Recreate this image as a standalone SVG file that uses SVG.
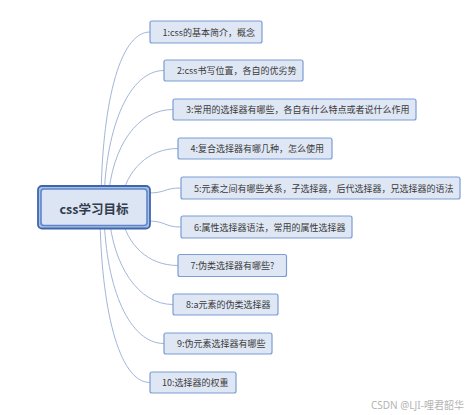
<svg xmlns="http://www.w3.org/2000/svg" width="474" height="415" viewBox="0 0 474 415">
<style>
.bg{fill:#ffffff}
.link{fill:none;stroke:#a3b6d8;stroke-width:1}
.box{fill:#dfe7f4;stroke:#7b9dd3;stroke-width:1.2}
.t{font-family:"Microsoft YaHei","Noto Sans CJK SC",sans-serif;font-size:9px;fill:#3a3a3a;dominant-baseline:central}
.rt{font-family:"Microsoft YaHei","Noto Sans CJK SC",sans-serif;font-size:12.5px;font-weight:bold;fill:#333c4c;dominant-baseline:central;text-anchor:middle}
.wm{font-family:"Noto Sans","Noto Sans CJK SC",sans-serif;font-size:10px;fill:#b4b4b4;dominant-baseline:central}
</style>
<rect class="bg" x="0" y="0" width="474" height="415"/>
<g id="connectors">
<path class="link" d="M101 200 C102 110 118 32 150 32"/>
<path class="link" d="M104 200 C106 125 130 70.5 164 70.5"/>
<path class="link" d="M108 200 C112 145 138 109.5 173 109.5"/>
<path class="link" d="M121 200 C127 170 148 148.5 178 148.5"/>
<path class="link" d="M148 193 C166 193 164 188 181 188"/>
<path class="link" d="M148 221 C166 221 164 227 181 227"/>
<path class="link" d="M121 215 C127 245 148 265.5 178 265.5"/>
<path class="link" d="M109 215 C113 265 138 304.5 173 304.5"/>
<path class="link" d="M104 215 C106 290 130 343.5 164 343.5"/>
<path class="link" d="M100 215 C101 305 118 382.5 150 382.5"/>
</g>
<g id="root">
<rect x="38" y="186" width="112" height="42.5" rx="4" fill="#a9c0e6" stroke="#3f66ad" stroke-width="1.8"/>
<rect x="41" y="189" width="106" height="36.5" rx="3" fill="#dce5f3" stroke="#5f86c9" stroke-width="1.6"/>
<text class="rt" x="94" y="208">css学习目标</text>
</g>
<g id="n1"><rect class="box" x="150" y="21" width="112" height="22" rx="2"/><text class="t" x="162.5" y="32">1:css的基本简介，概念</text></g>
<g id="n2"><rect class="box" x="164" y="60" width="139" height="21" rx="2"/><text class="t" x="177" y="70.5">2:css书写位置，各自的优劣势</text></g>
<g id="n3"><rect class="box" x="173" y="99" width="243" height="21" rx="2"/><text class="t" x="186" y="109.5">3:常用的选择器有哪些，各自有什么特点或者说什么作用</text></g>
<g id="n4"><rect class="box" x="178" y="138" width="154" height="21" rx="2"/><text class="t" x="190.5" y="148.5">4:复合选择器有哪几种，怎么使用</text></g>
<g id="n5"><rect class="box" x="181" y="177" width="279" height="22" rx="2"/><text class="t" x="194" y="188">5:元素之间有哪些关系，子选择器，后代选择器，兄选择器的语法</text></g>
<g id="n6"><rect class="box" x="181" y="216" width="171" height="22" rx="2"/><text class="t" x="194" y="227">6:属性选择器语法，常用的属性选择器</text></g>
<g id="n7"><rect class="box" x="178" y="254.5" width="108.5" height="22" rx="2"/><text class="t" x="190.5" y="265.5">7:伪类选择器有哪些?</text></g>
<g id="n8"><rect class="box" x="173" y="294" width="105" height="21" rx="2"/><text class="t" x="186" y="304.5">8:a元素的伪类选择器</text></g>
<g id="n9"><rect class="box" x="164" y="333" width="108" height="21" rx="2"/><text class="t" x="177" y="343.5">9:伪元素选择器有哪些</text></g>
<g id="n10"><rect class="box" x="150" y="372" width="86" height="21" rx="2"/><text class="t" x="162" y="382.5">10:选择器的权重</text></g>
<text class="wm" x="371" y="405">CSDN @LJI-哩君韶华</text>
</svg>
